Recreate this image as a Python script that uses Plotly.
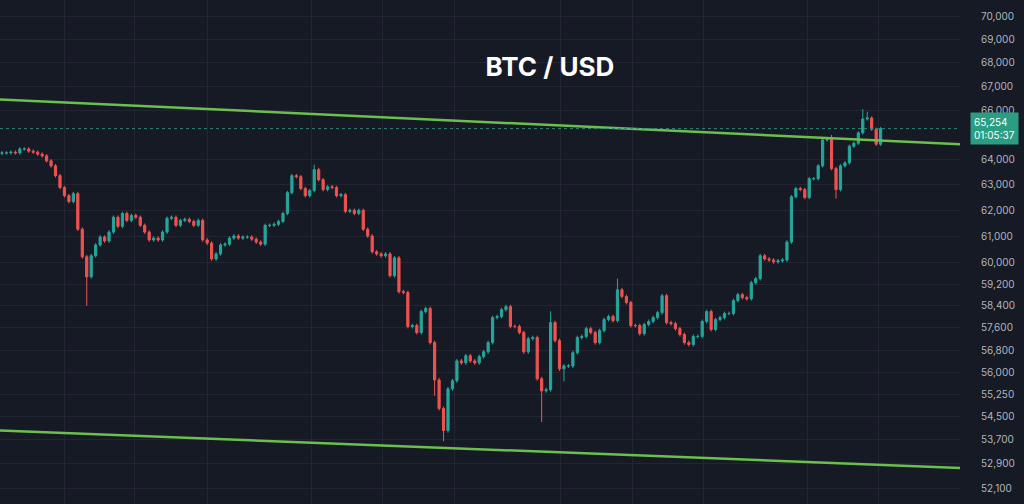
import plotly.graph_objects as go

# closes, one per candle (open = previous close)
closes = [
    64270, 64270, 64300, 64270, 64430, 64430, 64340, 64300, 64220, 64150, 63950, 63750,
    63360, 62890, 62570, 62340, 62650, 61270, 60220, 59470,
    60260, 60670, 60970, 60820, 61160, 61730, 61380, 61880, 61610, 61800,
    61730, 61420, 61160, 60860, 60930, 60860, 61160, 61690, 61730, 61420,
    61610, 61650, 61570, 61420, 61610, 60860, 60740, 60140, 60330, 60670,
    60700, 60930, 61010, 60930, 60970, 60970, 60890, 60780, 60700, 61420,
    61420, 61460, 61570, 61880, 62690, 63360, 63320, 62850, 62570, 62770,
    63600, 63200, 62810, 62920,
    62890, 62570, 62610, 61960, 62000, 61880, 62000, 61270, 61010, 60410,
    60330, 60260, 60330, 59510, 60180, 58920, 58890, 57650, 57680, 57430,
    58190, 58300, 57070, 55750, 54760, 54010, 55440, 55720, 56420, 56350,
    56600, 56420, 56350, 56570, 56740, 57070, 57970, 58010, 58260, 58370,
    57650, 57650, 57430, 56740, 57210, 57250, 55790, 55370, 55410, 57790,
    57140, 56140, 56240, 56240, 56710, 57250, 57290, 57570, 57430, 57070,
    57500, 57900, 58010, 57860, 58990, 58740, 58520, 57680, 57680, 57390,
    57720, 57830, 57970, 58150, 58770,
    57790, 57750, 57570, 57360, 57070, 57000, 57290, 57290, 57830, 58190,
    57540, 57900, 57970, 58120, 58120, 58590, 58810, 58700, 58660, 59250,
    59400, 60260, 60140, 60100, 60030, 60070, 60100, 60780, 62530, 62850,
    62810, 62500, 63240, 63240, 63750, 64790, 64830, 63640, 62810, 63750,
    63870, 64540, 64660, 65080, 65650, 65690, 65230, 64620, 65254,
]
first_open = 64250
# notable wick extremes (candle index -> price)
high_marks = {123: 58200, 138: 59400, 186: 65000, 193: 66050, 194: 65950, 70: 63800}
low_marks = {19: 58400, 99: 53650, 121: 54300, 187: 62450, 97: 55200, 126: 55700}
wick = 70

last_price = 65254
y_ticks = [52100, 52900, 53700, 54500, 55250, 56000, 56800, 57600, 58400, 59200,
           60000, 61000, 62000, 63000, 64000, 66000, 67000, 68000, 69000, 70000]
v_grid = [13.9, 29.8, 46, 69.5, 85.4, 101.4, 125.3, 141.3, 157.2, 180.7, 196.6]
upper_line = [66460, 64620]
lower_line = [54010, 52760]
line_x = [-0.45, 214.8]

opens = [first_open] + closes[:-1]
highs, lows = [], []
for i, (o, c) in enumerate(zip(opens, closes)):
    highs.append(high_marks.get(i, max(o, c) + wick))
    lows.append(low_marks.get(i, min(o, c) - wick))
idx = list(range(len(closes)))

bg = "#161a25"
fig = go.Figure()
fig.add_trace(go.Candlestick(
    x=idx, open=opens, high=highs, low=lows, close=closes,
    increasing=dict(line=dict(color="#26a69a", width=1), fillcolor="#26a69a"),
    decreasing=dict(line=dict(color="#ef5350", width=1), fillcolor="#ef5350"),
    whiskerwidth=0, showlegend=False, hoverinfo="skip",
))
fig.add_trace(go.Scatter(x=line_x, y=upper_line, mode="lines",
                         line=dict(color="#6cbf4f", width=2.5), showlegend=False))
fig.add_trace(go.Scatter(x=line_x, y=lower_line, mode="lines",
                         line=dict(color="#6cbf4f", width=2.5), showlegend=False))
fig.add_trace(go.Scatter(x=line_x, y=[last_price, last_price], mode="lines",
                         line=dict(color="#2f8a78", width=1, dash="dot"), showlegend=False))

fig.update_layout(
    width=1024, height=504,
    margin=dict(l=0, r=64, t=0, b=0),
    paper_bgcolor=bg, plot_bgcolor=bg,
    font=dict(family="Inter, Roboto, sans-serif", color="#b2b5be", size=10),
    xaxis=dict(range=[-0.45, 214.8], rangeslider=dict(visible=False),
               tickvals=v_grid, showticklabels=False, gridcolor="#232632",
               zeroline=False, showline=False),
    yaxis=dict(type="log", side="right", range=[4.7125, 4.8496],
               tickvals=y_ticks, ticktext=[f"{v:,}" for v in y_ticks],
               gridcolor="#232632", zeroline=False, showline=False,
               ticks="", ticklabelstandoff=20, automargin=False),
    title=dict(text="<b>BTC / USD</b>", x=0.537, y=0.885, xanchor="center",
               font=dict(size=26, color="white", family="Inter, Roboto, sans-serif")),
)
fig.add_annotation(xref="paper", yref="y", x=1.0, y=4.8146, xanchor="left",
                   text="65,254<br>01:05:37", showarrow=False, align="left",
                   bgcolor="#2a9d82", font=dict(color="white", size=10), borderpad=3,
                   xshift=10)
fig.write_html("out.html", config={"displayModeBar": False},
               post_script="document.body.style.margin='0';document.body.style.background='#161a25';")
